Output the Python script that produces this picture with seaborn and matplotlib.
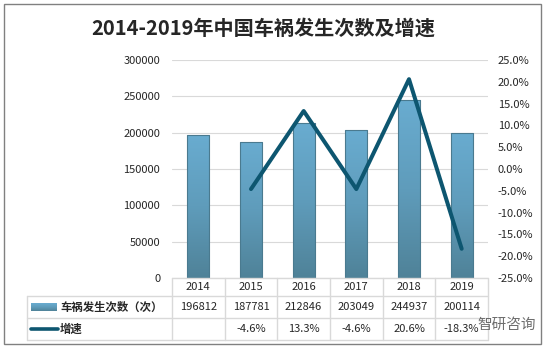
import numpy as np
import pandas as pd
import matplotlib
matplotlib.use('Agg')
import matplotlib.pyplot as plt
import seaborn as sns
from matplotlib.colors import LinearSegmentedColormap
from matplotlib.lines import Line2D
from matplotlib.patches import Rectangle
from matplotlib.transforms import blended_transform_factory
from matplotlib.ticker import FuncFormatter

# data
years = ['2014', '2015', '2016', '2017', '2018', '2019']
accidents = [196812, 187781, 212846, 203049, 244937, 200114]
growth = [np.nan, -4.6, 13.3, -4.6, 20.6, -18.3]
growth_text = ['', '-4.6%', '13.3%', '-4.6%', '20.6%', '-18.3%']
bar_name = '车祸发生次数（次）'
line_name = '增速'
title = '2014-2019年中国车祸发生次数及增速'

sns.set_style('white')
plt.rcParams['font.family'] = ['Noto Sans CJK SC', 'DejaVu Sans']

W, H = 545, 348
fig = plt.figure(figsize=(W / 100, H / 100), dpi=100)


def fx(px):
    return px / W


def fy(py):
    return 1 - py / H


bar_cmap = LinearSegmentedColormap.from_list('bar', ['#4f8298', '#5f9cbb', '#69acd0'])
line_color = '#0d5670'
grid_color = '#d9d9d9'
text_color = '#262626'

ax = fig.add_axes([fx(172), fy(278), fx(488) - fx(172), fy(60) - fy(278)])
df = pd.DataFrame({'year': years, 'count': accidents})
sns.barplot(data=df, x='year', y='count', ax=ax, width=0.42, color='#5f9cbb',
            edgecolor='#4a7a8f', linewidth=0.8, zorder=2)

grad = np.linspace(1, 0, 256).reshape(-1, 1)
for p in ax.patches:
    x0, y0 = p.get_x(), p.get_y()
    w, h = p.get_width(), p.get_height()
    im = ax.imshow(grad, extent=[x0, x0 + w, y0, y0 + h], aspect='auto',
                   cmap=bar_cmap, zorder=2.5)
    im.set_clip_path(p)
    p.set_facecolor('none')
    p.set_zorder(3)

ax.set_xlim(-0.5, len(years) - 0.5)
ax.set_ylim(0, 300000)
ax.set_yticks(range(0, 300001, 50000))
ax.set_axisbelow(True)
ax.yaxis.grid(True, color=grid_color, lw=0.8)
ax.tick_params(axis='y', length=0, pad=8.5, labelsize=8, labelcolor=text_color)
ax.set_xticks([])
ax.set_xlabel('')
ax.set_ylabel('')
for s in ax.spines.values():
    s.set_visible(False)

ax2 = ax.twinx()
sns.lineplot(x=np.arange(len(years)), y=growth, ax=ax2, color=line_color, lw=2.9, zorder=4)
ax2.set_ylim(-25, 25)
ax2.set_yticks(range(-25, 26, 5))
ax2.yaxis.set_major_formatter(FuncFormatter(lambda v, pos: f'{v:.1f}%'))
ax2.tick_params(axis='y', length=0, pad=7, labelsize=8, labelcolor=text_color)
ax2.set_xlim(-0.5, len(years) - 0.5)
for s in ax2.spines.values():
    s.set_visible(False)

# data table under the chart
lc = grid_color
col_edges = [172 + i * (488 - 172) / len(years) for i in range(len(years) + 1)]
fig.add_artist(Line2D([fx(172), fx(488)], [fy(278), fy(278)], color=lc, lw=1))
for y in [296, 318, 340]:
    fig.add_artist(Line2D([fx(27), fx(488)], [fy(y), fy(y)], color=lc, lw=1))
fig.add_artist(Line2D([fx(27), fx(27)], [fy(296), fy(340)], color=lc, lw=1))
for xe in col_edges:
    fig.add_artist(Line2D([fx(xe), fx(xe)], [fy(278), fy(340)], color=lc, lw=1))

tr = blended_transform_factory(ax.transData, fig.transFigure)
for i, yr in enumerate(years):
    fig.text(i, fy(287), yr, transform=tr, ha='center', va='center', fontsize=8, color=text_color)
    fig.text(i, fy(307), f'{accidents[i]}', transform=tr, ha='center', va='center',
             fontsize=8, color=text_color)
    fig.text(i, fy(329), growth_text[i], transform=tr, ha='center', va='center',
             fontsize=8, color=text_color)

kax = fig.add_axes([fx(31), fy(311), fx(57) - fx(31), fy(303) - fy(311)])
kax.imshow(grad, aspect='auto', cmap=bar_cmap)
kax.set_axis_off()
fig.text(fx(60), fy(307), bar_name, ha='left', va='center', fontsize=8.2,
         fontweight='bold', color=text_color)
fig.add_artist(Line2D([fx(31), fx(58)], [fy(329), fy(329)], color=line_color, lw=2.6))
fig.text(fx(60), fy(329), line_name, ha='left', va='center', fontsize=8.2,
         fontweight='bold', color=text_color)

# title, frame and watermark
fig.text(fx(263), fy(28), title, ha='center', va='center', fontsize=14.5,
         fontweight='bold', color=text_color)
fig.add_artist(Rectangle((fx(4), fy(344)), fx(541) - fx(4), fy(4) - fy(344),
                         fill=False, edgecolor='#808080', lw=1))
fig.text(fx(477), fy(325), '智研咨询', ha='left', va='center', fontsize=10.5,
         color='#555555', alpha=0.85)

fig.savefig('out.png', dpi=100)
